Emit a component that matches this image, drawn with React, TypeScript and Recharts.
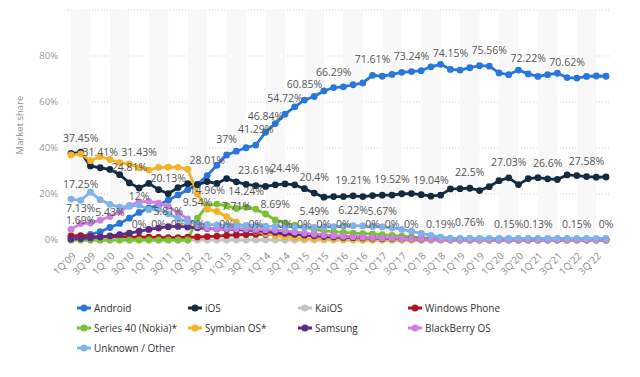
import { LineChart, Line, XAxis, YAxis, CartesianGrid, ReferenceArea, LabelList } from "recharts";

const quarters = [
  "1Q'09", "2Q'09", "3Q'09", "4Q'09", "1Q'10", "2Q'10", "3Q'10", "4Q'10",
  "1Q'11", "2Q'11", "3Q'11", "4Q'11", "1Q'12", "2Q'12", "3Q'12", "4Q'12",
  "1'Q13", "2Q'13", "3Q'13", "4Q'13", "1Q'14", "2Q'14", "3Q'14", "4Q'14",
  "1Q'15", "2Q'15", "3Q'15", "4Q'15", "1Q'16", "2Q'16", "3Q'16", "4Q'16",
  "1Q'17", "2Q'17", "3Q'17", "4Q'17", "1Q'18", "2Q'18", "3Q'18", "4Q'18",
  "1Q'19", "2Q'19", "3Q'19", "4Q'19", "1Q'20", "2Q'20", "3Q'20", "4Q'20",
  "1Q'21", "2Q'21", "3Q'21", "4Q'21", "1Q'22", "2Q'22", "3Q'22", "4Q'22",
];

const android = [
  1.2, 1.69, 2.4, 3.6, 5.43, 7.2, 9.5, 12,
  13.8, 15.2, 17.3, 19.6, 21.8, 24.2, 28.01, 32.5,
  37, 38.6, 40.1, 41.29, 46.84, 50.6, 54.72, 57.9,
  60.85, 62.4, 64.8, 66.29, 66.6, 67.5, 68.3, 71.61,
  71.2, 72, 72.9, 73.24, 73.6, 75.3, 76.4, 74.15,
  73.9, 74.9, 75.8, 75.56, 72.6, 71.9, 73.9, 72.22,
  71.1, 71.9, 72.5, 70.62, 70.4, 71.1, 71.3, 71.2,
];
const ios = [
  37.6, 38.2, 32.2, 31.41, 30.7, 28.4, 24.81, 22.6,
  24.6, 21.9, 20.13, 22.8, 24.5, 24.1, 25.4, 24.6,
  26.7, 25.3, 24.2, 23.61, 23.3, 24, 24.4, 24,
  22.3, 20.4, 18.6, 18.9, 18.9, 19.21, 18.9, 19.3,
  19.5, 19.52, 20.1, 20.2, 19.7, 19.04, 19.5, 22.2,
  22.3, 22.5, 21.5, 23.2, 25.8, 27.03, 24.1, 26.7,
  27.1, 26.6, 26.3, 28.3, 28, 27.58, 27.3, 27.4,
];
const kaios = [
  0, 0, 0, 0, 0, 0, 0, 0,
  0, 0, 0, 0, 0, 0, 0, 0,
  0, 0, 0, 0, 0, 0, 0, 0,
  0, 0, 0, 0, 0, 0, 0, 0,
  0, 0, 0, 0, 0, 0, 0.19, 0.45,
  0.62, 0.76, 0.6, 0.42, 0.25, 0.15, 0.14, 0.13,
  0.13, 0.13, 0.14, 0.14, 0.15, 0.08, 0.04, 0,
];
const windowsPhone = [
  1.8, 1.9, 1.6, 1.4, 1.5, 1.5, 1.3, 1.2,
  1.2, 1.1, 1, 1, 1.2, 1.3, 1.5, 1.7,
  2, 2.2, 2.4, 2.5, 2.5, 2.6, 2.6, 2.4,
  2.3, 2.2, 2, 1.8, 1.6, 1.4, 1.2, 1,
  0.8, 0.6, 0.5, 0.4, 0.3, 0.2, 0.1, 0,
  0, 0, 0, 0, 0, 0, 0, 0,
  0, 0, 0, 0, 0, 0, 0, 0,
];
const series40 = [
  0, 0, 0, 0, 0, 0, 0, 0,
  0, 0, 0, 0, 0, 9.54, 14.96, 15.6,
  14.9, 13.7, 14.24, 13.4, 11.3, 8.69, 7.4, 6.5,
  5.5, 4.6, 4, 3.6, 3.3, 3, 2.8, 2.6,
  2.3, 2, 1.7, 1.3, 1, 0.6, 0.3, 0.1,
  0, 0, 0, 0, 0, 0, 0, 0,
  0, 0, 0, 0, 0, 0, 0, 0,
];
const symbian = [
  37, 37.45, 34.5, 36.2, 35, 33.6, 33, 31.43,
  30.4, 31.6, 31.7, 31.6, 30.8, 20, 13.4, 12.4,
  10.2, 7.71, 5.2, 3.8, 2.8, 2, 1.4, 1,
  0.7, 0.5, 0.4, 0.3, 0.2, 0.1, 0, 0,
  0, 0, 0, 0, 0, 0, 0, 0,
  0, 0, 0, 0, 0, 0, 0, 0,
  0, 0, 0, 0, 0, 0, 0, 0,
];
const samsung = [
  0.4, 0.6, 0.9, 1.3, 1.8, 2.3, 3, 3.8,
  4.6, 5.2, 5.81, 5.9, 5.6, 5.3, 5, 4.8,
  4.7, 4.5, 4.3, 4.1, 3.7, 3.3, 2.9, 2.5,
  2.1, 1.8, 1.5, 1.3, 1.1, 1, 0.9, 0.8,
  0.7, 0.6, 0.5, 0.5, 0.4, 0.4, 0.3, 0.3,
  0.3, 0.3, 0.3, 0.3, 0.3, 0.2, 0.2, 0.2,
  0.2, 0.2, 0.2, 0.2, 0.2, 0.2, 0.2, 0.2,
];
const blackberry = [
  4.6, 7.13, 7.4, 8.6, 10.2, 12.3, 15, 16.6,
  16.8, 16, 14.6, 11.8, 9.2, 6.2, 5.2, 5,
  5, 4.9, 4.8, 4.6, 4.5, 4.3, 4, 3.5,
  3, 2.6, 2.2, 1.9, 1.6, 1.4, 1.2, 1,
  0.9, 0.8, 0.6, 0.5, 0.4, 0.3, 0.2, 0.1,
  0, 0, 0, 0, 0, 0, 0, 0,
  0, 0, 0, 0, 0, 0, 0, 0,
];
const unknownOther = [
  17.8, 17.25, 20.8, 17.5, 15.5, 14.3, 14.6, 15.2,
  13.2, 13.4, 11.4, 9.3, 8, 7.2, 6.8, 6.6,
  6.4, 6.3, 6.4, 6.2, 6, 5.9, 5.8, 5.6,
  5.5, 5.49, 5.6, 5.8, 6, 6.22, 6.1, 5.9,
  5.67, 5.2, 4.6, 3.8, 2.9, 2, 1.2, 0.8,
  0.7, 0.7, 0.7, 0.7, 0.7, 0.7, 0.7, 0.7,
  0.7, 0.7, 0.7, 0.7, 0.7, 0.7, 0.7, 0.7,
];

// which points carry a value label
const androidLabels = [1, 4, 7, 14, 16, 19, 20, 22, 24, 27, 31, 35, 39, 43, 47, 51];
const iosLabels = [3, 6, 10, 19, 22, 25, 29, 33, 37, 41, 45, 49, 53];
const kaiosLabels = [7, 9, 11, 13, 16, 19, 22, 24, 26, 28, 31, 33, 35, 38, 41, 45, 48, 52, 55];
const series40Labels = [13, 14, 18, 21];
const symbianLabels = [1, 7, 17];
const samsungLabels = [10];
const blackberryLabels = [1];
const unknownLabels = [1, 25, 29, 32];

const yTicks = [0, 20, 40, 60, 80, 100];

const SERIES = [
  { key: "android", name: "Android", color: "#2876dd", values: android, labels: androidLabels },
  { key: "ios", name: "iOS", color: "#142a40", values: ios, labels: iosLabels },
  { key: "kaios", name: "KaiOS", color: "#c4c4c4", values: kaios, labels: kaiosLabels },
  { key: "windows", name: "Windows Phone", color: "#b0171b", values: windowsPhone, labels: [] as number[] },
  { key: "s40", name: "Series 40 (Nokia)*", color: "#7bc230", values: series40, labels: series40Labels },
  { key: "symbian", name: "Symbian OS*", color: "#f2b324", values: symbian, labels: symbianLabels },
  { key: "samsung", name: "Samsung", color: "#5b2b86", values: samsung, labels: samsungLabels },
  { key: "blackberry", name: "BlackBerry OS", color: "#cd80e0", values: blackberry, labels: blackberryLabels },
  { key: "unknown", name: "Unknown / Other", color: "#7eb2ea", values: unknownOther, labels: unknownLabels },
];

const data = quarters.map((q, i) => {
  const row: Record<string, string | number> = { q };
  SERIES.forEach((s) => {
    row[s.key] = s.values[i];
  });
  return row;
});

// light columns every other half-year
const bands = quarters
  .map((q, i) => ({ q, i }))
  .filter(({ i }) => i % 4 === 0 && i + 2 < quarters.length)
  .map(({ q, i }) => [q, quarters[i + 2]]);

const FONT = "'Open Sans', sans-serif";

const makeLabel = (idxs: number[]) => (props: any) => {
  const { value, index } = props;
  if (!idxs.includes(index)) return null;
  const x = props.x ?? props.viewBox?.x;
  const y = props.y ?? props.viewBox?.y;
  return (
    <text x={x} y={y - 12} textAnchor="middle" fontSize={10.5} fill="#555" fontFamily={FONT}>
      {`${value}%`}
    </text>
  );
};

const QuarterTick = ({ x, y, payload }: any) => (
  <g transform={`translate(${x + 3},${y + 14})`}>
    <text textAnchor="end" transform="rotate(-45)" dy="0.35em" fontSize={10} fill="#8c8c8c" fontFamily={FONT}>
      {payload.value}
    </text>
  </g>
);

const LEGEND_X = [77, 188, 298, 408];
const LEGEND_Y = [308, 328, 348];

function LegendBlock() {
  return (
    <>
      {SERIES.map((s, i) => (
        <div
          key={s.key}
          style={{
            position: "absolute",
            left: LEGEND_X[i % 4],
            top: LEGEND_Y[Math.floor(i / 4)] - 8,
            height: 16,
            display: "flex",
            alignItems: "center",
            gap: 3,
            fontFamily: FONT,
            fontSize: 10,
            color: "#333",
            whiteSpace: "nowrap",
          }}
        >
          <svg width={14} height={8}>
            <line x1={0} y1={4} x2={14} y2={4} stroke={s.color} strokeWidth={3} />
            <circle cx={7} cy={4} r={3.5} fill={s.color} />
          </svg>
          {s.name}
        </div>
      ))}
    </>
  );
}

export default function App() {
  return (
    <div style={{ position: "relative", width: 640, height: 377, background: "#fff" }}>
      <style>{`body{margin:0}`}</style>
      <LineChart width={640} height={377} data={data} margin={{ top: 10, right: 30, bottom: 97, left: 0 }}>
        {bands.map(([a, b]) => (
          <ReferenceArea key={a} x1={a} x2={b} fill="#f8f8f8" fillOpacity={1} stroke="none" />
        ))}
        <CartesianGrid vertical={false} stroke="#d2d2d2" strokeDasharray="1 2" />
        <XAxis
          dataKey="q"
          interval={1}
          axisLine={false}
          tickLine={false}
          tickSize={0}
          tickMargin={0}
          height={40}
          padding={{ left: 3, right: 4 }}
          tick={<QuarterTick />}
        />
        <YAxis
          domain={[0, 100]}
          ticks={yTicks}
          width={68}
          axisLine={false}
          tickLine={false}
          tickMargin={4}
          tick={{ fontSize: 9.5, fill: "#9a9a9a", fontFamily: FONT }}
          tickFormatter={(v: number) => (v === 100 ? "" : `${v}%`)}
          label={{
            value: "Market share",
            angle: -90,
            position: "insideLeft",
            offset: 20,
            style: { textAnchor: "middle", fontSize: 9.5, fill: "#8c8c8c", fontFamily: FONT },
          }}
        />
        {SERIES.map((s) => (
          <Line
            key={s.key}
            dataKey={s.key}
            name={s.name}
            type="linear"
            stroke={s.color}
            strokeWidth={2.8}
            dot={{ r: 3.4, fill: s.color, stroke: s.color, strokeWidth: 0 }}
            activeDot={false}
            isAnimationActive={false}
          />
        ))}
        {SERIES.filter((s) => s.labels.length > 0).map((s) => (
          <Line
            key={`lbl-${s.key}`}
            dataKey={s.key}
            stroke="none"
            dot={false}
            activeDot={false}
            legendType="none"
            isAnimationActive={false}
          >
            <LabelList dataKey={s.key} content={makeLabel(s.labels)} />
          </Line>
        ))}
      </LineChart>
      <LegendBlock />
    </div>
  );
}
